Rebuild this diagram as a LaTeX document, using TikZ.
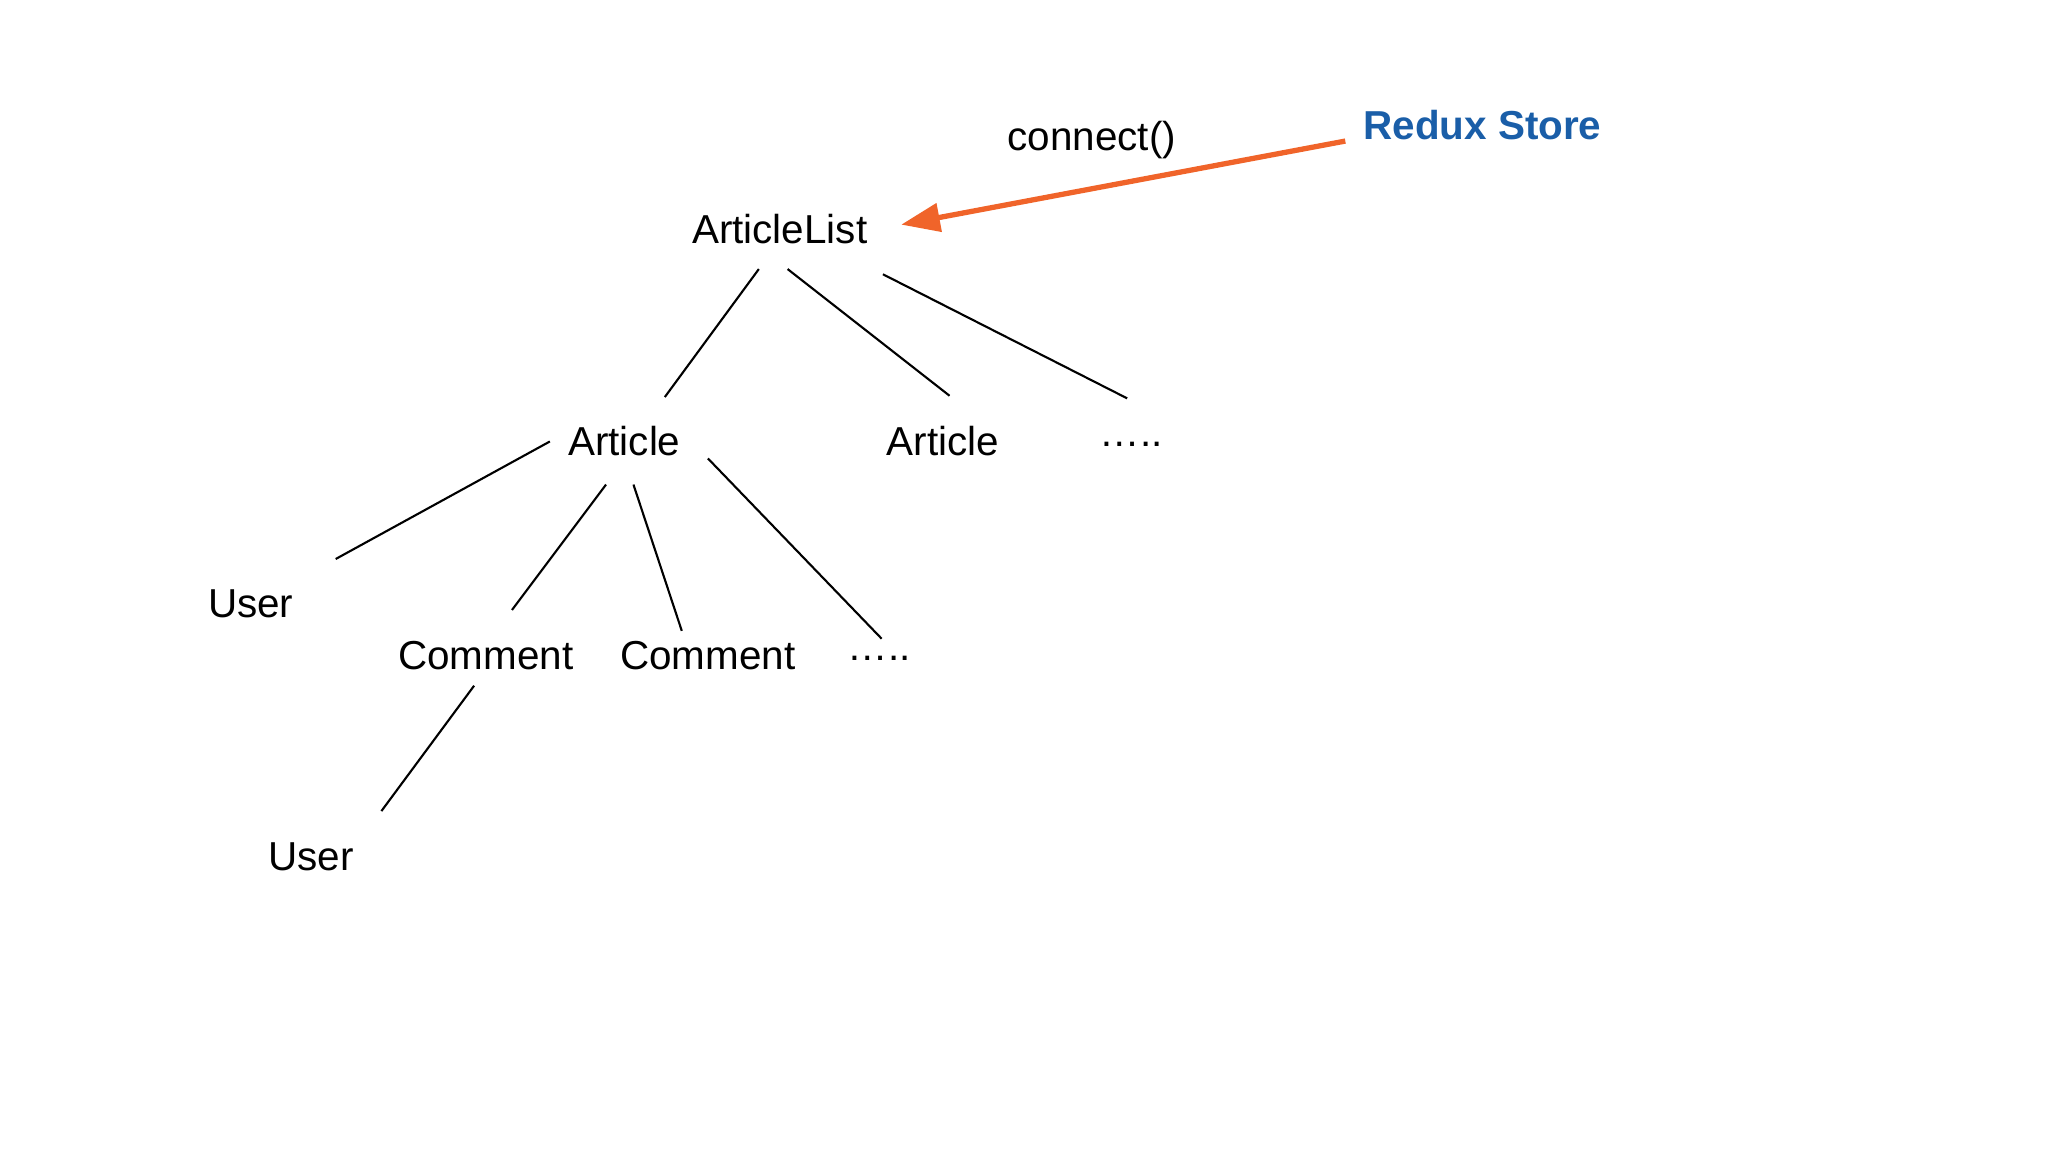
\documentclass[tikz,border=0pt]{standalone}
\usepackage{fontspec}
\setmainfont{Liberation Sans}
\usetikzlibrary{calc,arrows.meta}
\definecolor{reduxblue}{HTML}{1A5EA8}
\definecolor{arroworange}{HTML}{F0642A}
\begin{document}
\begin{tikzpicture}[x=0.013061cm,y=-0.013061cm,
  lbl/.style={font=\fontsize{11.5pt}{13pt}\selectfont, inner sep=0pt},
  edge/.style={line width=0.6pt, black}]
\useasboundingbox (0,0) rectangle (1568,882);
\node[lbl] (al) at (597,175) {ArticleList};
\node[lbl] (conn) at (836,107) {connect()};
\node[lbl,font=\fontsize{11.5pt}{13pt}\selectfont\bfseries,text=reduxblue] (rs) at (1135,96) {Redux Store};
\node[lbl] (a1) at (478,338) {Article};
\node[lbl] (a2) at (722,338) {Article};
\node[lbl] (d1) at (866,340) {…..};
\node[lbl] (u1) at (192,462) {User};
\node[lbl] (c1) at (372,502) {Comment};
\node[lbl] (c2) at (542,502) {Comment};
\node[lbl] (d2) at (673,504) {…..};
\node[lbl] (u2) at (238,656) {User};
\draw[line width=1.5pt, arroworange, -{Triangle[length=11pt,width=8pt]}]
  ($(rs)+(-105,12)$) -- ($(al)+(93,-3)$);
\draw[edge] ($(al)+(-16,31)$) -- ($(a1)+(31,-34)$);
\draw[edge] ($(al)+(6,31)$) -- ($(a2)+(5,-35)$);
\draw[edge] ($(al)+(79,35)$) -- ($(d1)+(-3,-35)$);
\draw[edge] ($(a1)+(-57,0)$) -- ($(u1)+(65,-34)$);
\draw[edge] ($(a1)+(-14,33)$) -- ($(c1)+(20,-35)$);
\draw[edge] ($(a1)+(7,33)$) -- ($(c2)+(-20,-19)$);
\draw[edge] ($(a1)+(64,13)$) -- ($(d2)+(2,-15)$);
\draw[edge] ($(c1)+(-9,23)$) -- ($(u2)+(54,-35)$);
\end{tikzpicture}
\end{document}
